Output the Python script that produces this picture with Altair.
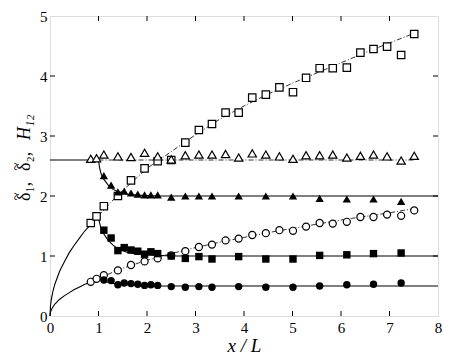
import altair as alt
import pandas as pd

# ---- data ----
xs_full = [0.84, 0.96, 1.11, 1.40, 1.67, 1.95, 2.22, 2.50, 2.79, 3.07, 3.34, 3.62, 3.89,
           4.17, 4.45, 4.73, 5.01, 5.28, 5.56, 5.83, 6.12, 6.40, 6.67, 6.95, 7.24, 7.51]
open_sq = [1.55, 1.66, 1.83, 2.00, 2.26, 2.46, 2.58, 2.60, 2.89, 3.10, 3.20, 3.39, 3.39,
           3.64, 3.69, 3.81, 3.73, 3.97, 4.13, 4.13, 4.14, 4.39, 4.45, 4.49, 4.35, 4.70]
open_tri = [2.62, 2.63, 2.69, 2.66, 2.65, 2.72, 2.66, 2.61, 2.68, 2.69, 2.69, 2.70, 2.64,
            2.71, 2.69, 2.66, 2.62, 2.68, 2.68, 2.69, 2.64, 2.67, 2.69, 2.66, 2.59, 2.67]
open_circ = [0.57, 0.62, 0.68, 0.76, 0.85, 0.91, 0.96, 1.01, 1.08, 1.15, 1.19, 1.26, 1.29,
             1.35, 1.38, 1.43, 1.42, 1.49, 1.55, 1.54, 1.57, 1.65, 1.65, 1.69, 1.67, 1.76]

xs_fill = [1.11, 1.26, 1.40, 1.53, 1.67, 1.81, 1.95, 2.08, 2.22, 2.50, 2.79, 3.07, 3.34,
           3.89, 4.45, 5.01, 5.56, 6.12, 6.67, 7.24]
fill_tri = [2.34, 2.18, 2.07, 2.08, 2.05, 2.03, 2.02, 2.02, 2.02, 1.98, 2.00, 2.00, 2.00,
            2.00, 2.00, 2.00, 1.96, 1.95, 1.95, 1.91]
fill_sq = [1.43, 1.30, 1.09, 1.14, 1.10, 1.08, 1.03, 1.07, 1.04, 1.00, 0.96, 0.99, 0.95,
           0.99, 0.95, 0.95, 1.01, 1.02, 1.04, 1.05]
fill_circ = [0.60, 0.59, 0.52, 0.55, 0.54, 0.53, 0.51, 0.52, 0.51, 0.49, 0.48, 0.49, 0.48,
             0.49, 0.48, 0.48, 0.50, 0.52, 0.53, 0.55]

# solid model curves
curveA_x = [0, 1.0, 1.02, 1.05, 1.1, 1.2, 1.3, 1.4, 1.6, 1.8, 2.2, 8]
curveA_y = [2.6, 2.6, 2.48, 2.38, 2.29, 2.18, 2.11, 2.07, 2.03, 2.015, 2.0, 2.0]
curveB_x = [0, 0.01, 0.03, 0.06, 0.1, 0.2, 0.3, 0.4, 0.5, 0.6, 0.7, 0.8, 0.9, 1.0,
            1.02, 1.05, 1.1, 1.2, 1.3, 1.4, 1.6, 1.8, 2.2, 2.6, 8]
curveB_y = [0, 0.17, 0.29, 0.41, 0.53, 0.75, 0.91, 1.06, 1.18, 1.29, 1.40, 1.49, 1.58, 1.67,
            1.56, 1.47, 1.38, 1.26, 1.18, 1.12, 1.06, 1.03, 1.01, 1.0, 1.0]
curveC_x = [0, 0.01, 0.03, 0.06, 0.1, 0.2, 0.3, 0.4, 0.5, 0.6, 0.7, 0.8, 0.9, 1.0,
            1.1, 1.2, 1.4, 1.8, 2.2, 8]
curveC_y = [0, 0.06, 0.11, 0.15, 0.2, 0.28, 0.34, 0.39, 0.44, 0.48, 0.52, 0.555, 0.59, 0.62,
            0.59, 0.56, 0.53, 0.51, 0.5, 0.5]

# dash-dot fit lines
dashT_x = [1.0, 7.5]
dashT_y = [2.6, 2.6]
dashS_x = [1.0, 1.4, 2.0, 2.5, 3.0, 3.5, 4.0, 4.5, 5.0, 5.5, 6.0, 6.5, 7.0, 7.5]
dashS_y = [1.67, 2.02, 2.46, 2.74, 3.02, 3.28, 3.50, 3.70, 3.88, 4.05, 4.22, 4.39, 4.55, 4.71]
dashC_x = [1.0, 1.4, 2.0, 2.5, 3.0, 3.5, 4.0, 4.5, 5.0, 5.5, 6.0, 6.5, 7.0, 7.5]
dashC_y = [0.62, 0.77, 0.93, 1.04, 1.14, 1.23, 1.31, 1.39, 1.46, 1.53, 1.60, 1.66, 1.72, 1.79]

x_ticks = [0, 1, 2, 3, 4, 5, 6, 7, 8]
y_ticks = [0, 1, 2, 3, 4, 5]
title_parts = ["δ₁,", "δ₂,", "H₁₂"]

W, H = 388, 300
FONT = "Liberation Serif"

xs = alt.Scale(domain=[0, 8], nice=False, zero=False)
ys = alt.Scale(domain=[0, 5], nice=False, zero=False)
X = alt.X("x:Q", scale=xs,
          axis=alt.Axis(values=x_ticks, format="d", title="x / L", titleFontStyle="italic",
                        titleFont=FONT, titleFontSize=19, titleFontWeight="normal",
                        titlePadding=1, labelPadding=4, labelFont=FONT, labelFontSize=15,
                        labelColor="black", titleColor="black", grid=False, domain=False,
                        ticks=False, labelFlush=False, labelOverlap=False))
Y = alt.Y("y:Q", scale=ys,
          axis=alt.Axis(values=y_ticks, format="d", title=None,
                        labelPadding=3, labelFont=FONT, labelFontSize=15,
                        labelColor="black", grid=False, domain=False,
                        ticks=False, labelFlush=False, labelOverlap=False))


def df(x, y):
    return pd.DataFrame({"x": x, "y": y})


def solid(x, y):
    return alt.Chart(df(x, y)).mark_line(color="black", strokeWidth=1.1).encode(x=X, y=Y)


def dashed(x, y):
    return alt.Chart(df(x, y)).mark_line(color="#333333", strokeWidth=1,
                                         strokeDash=[5, 2, 1, 2]).encode(x=X, y=Y)


def pts(x, y, shape, open_, size):
    if open_:
        m = alt.Chart(df(x, y)).mark_point(shape=shape, filled=True, fill="white",
                                           stroke="black", strokeWidth=1.2, size=size, opacity=1)
    else:
        m = alt.Chart(df(x, y)).mark_point(shape=shape, filled=True, color="black",
                                           size=size, opacity=1)
    return m.encode(x=X, y=Y)


# inward ticks
xt = pd.DataFrame({"x": [1, 2, 3, 4, 5, 6, 7]})
yt = pd.DataFrame({"y": [1, 2, 3, 4]})
tick_b = alt.Chart(xt).mark_rule(color="black").encode(x=X, y=alt.value(H), y2=alt.value(H - 5))
tick_t = alt.Chart(xt).mark_rule(color="black").encode(x=X, y=alt.value(0), y2=alt.value(5))
tick_l = alt.Chart(yt).mark_rule(color="black").encode(y=Y, x=alt.value(0), x2=alt.value(5))
tick_r = alt.Chart(yt).mark_rule(color="black").encode(y=Y, x=alt.value(W), x2=alt.value(W - 5))

# rotated y-axis title built from pieces (with tildes over the deltas)
one = pd.DataFrame({"k": [0]})


def ttext(txt, x, y, size=18, style="normal", align="left", baseline="alphabetic"):
    return alt.Chart(one).mark_text(
        text=txt, angle=270, align=align, baseline=baseline, font=FONT,
        fontSize=size, fontStyle=style, color="black"
    ).encode(x=alt.value(x), y=alt.value(y))


TX = -20
title_layers = [
    ttext(title_parts[0], TX, 185),
    ttext("~", TX - 14, 180.5, size=15, align="center", baseline="middle"),
    ttext(title_parts[1], TX, 155),
    ttext("~", TX - 14, 150.5, size=15, align="center", baseline="middle"),
    ttext(title_parts[2], TX, 124, style="italic"),
]

chart = alt.layer(
    solid(curveA_x, curveA_y),
    solid(curveB_x, curveB_y),
    solid(curveC_x, curveC_y),
    dashed(dashT_x, dashT_y),
    dashed(dashS_x, dashS_y),
    dashed(dashC_x, dashC_y),
    pts(xs_full, open_sq, "square", True, 55),
    pts(xs_full, open_tri, "triangle-up", True, 70),
    pts(xs_full, open_circ, "circle", True, 50),
    pts(xs_fill, fill_tri, "triangle-up", False, 70),
    pts(xs_fill, fill_sq, "square", False, 55),
    pts(xs_fill, fill_circ, "circle", False, 55),
    tick_b, tick_t, tick_l, tick_r,
    *title_layers,
).properties(
    width=W, height=H,
    padding={"left": 42, "top": 8, "right": 20, "bottom": 40},
    autosize=alt.AutoSizeParams(type="none"),
).configure_view(
    stroke="black", strokeWidth=1.2
).configure(background="white")

chart.save("out.html", embed_options={"renderer": "svg", "actions": False})
